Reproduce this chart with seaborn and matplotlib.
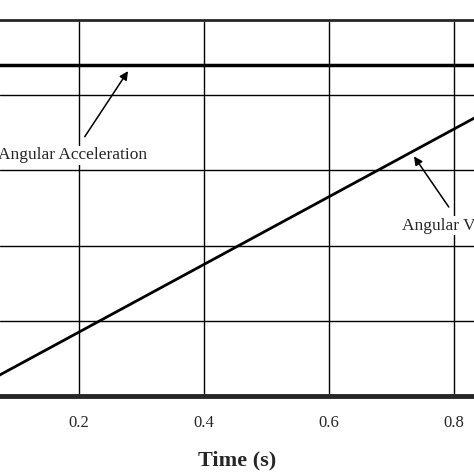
import numpy as np
import matplotlib
matplotlib.use("Agg")
import matplotlib.pyplot as plt
import seaborn as sns

# data
time_s = [0.0, 0.2, 0.4, 0.6, 0.8, 0.9]
ang_velocity = [-0.05, 0.85, 1.75, 2.65, 3.55, 4.0]
ang_accel = [4.4, 4.4, 4.4, 4.4, 4.4, 4.4]
x_ticks = [0.2, 0.4, 0.6, 0.8]
y_grid = [1, 2, 3, 4]

sns.set_theme(style="white")
plt.rcParams['font.family'] = ['Liberation Serif', 'DejaVu Serif']

def px2t(px):
    return 0.0736 + px / 625.0

def py2v(py):
    return (396 - py) / 75.0

fig = plt.figure(figsize=(4.74, 4.74), dpi=100)
ax = fig.add_axes([0, 1 - 396 / 474, 1, 376 / 474])

sns.lineplot(x=time_s, y=ang_velocity, ax=ax, color="black", lw=2)
sns.lineplot(x=time_s, y=ang_accel, ax=ax, color="black", lw=2.5)

ax.set_xlim(px2t(0), px2t(474))
ax.set_ylim(0, 5)
ax.set_xticks(x_ticks)
ax.set_xticklabels([f"{t:.1f}" for t in x_ticks], fontsize=12)
ax.set_yticks([])
for t in x_ticks:
    ax.axvline(t, color="black", lw=1, zorder=0)
for v in y_grid:
    ax.axhline(v, color="black", lw=1, zorder=0)
ax.tick_params(axis="x", length=0, pad=14)
for s in ["left", "right"]:
    ax.spines[s].set_visible(False)
ax.spines["top"].set_linewidth(2)
ax.spines["bottom"].set_linewidth(3.5)
ax.set_xlabel("Time (s)", fontsize=16, fontweight="bold", labelpad=14)

ax.annotate("Angular Acceleration", xy=(px2t(128), py2v(72)), xytext=(px2t(147), py2v(156)),
            ha="right", va="center", fontsize=12.5,
            bbox=dict(fc="white", ec="none", pad=1),
            arrowprops=dict(arrowstyle="-|>", color="black", lw=1.1, shrinkA=8, shrinkB=0))
ax.annotate("Angular Velocity", xy=(px2t(414), py2v(157)), xytext=(px2t(402), py2v(226)),
            ha="left", va="center", fontsize=12.5,
            bbox=dict(fc="white", ec="none", pad=1),
            arrowprops=dict(arrowstyle="-|>", color="black", lw=1.1, shrinkA=8, shrinkB=0))

fig.savefig("out.png", dpi=100)
